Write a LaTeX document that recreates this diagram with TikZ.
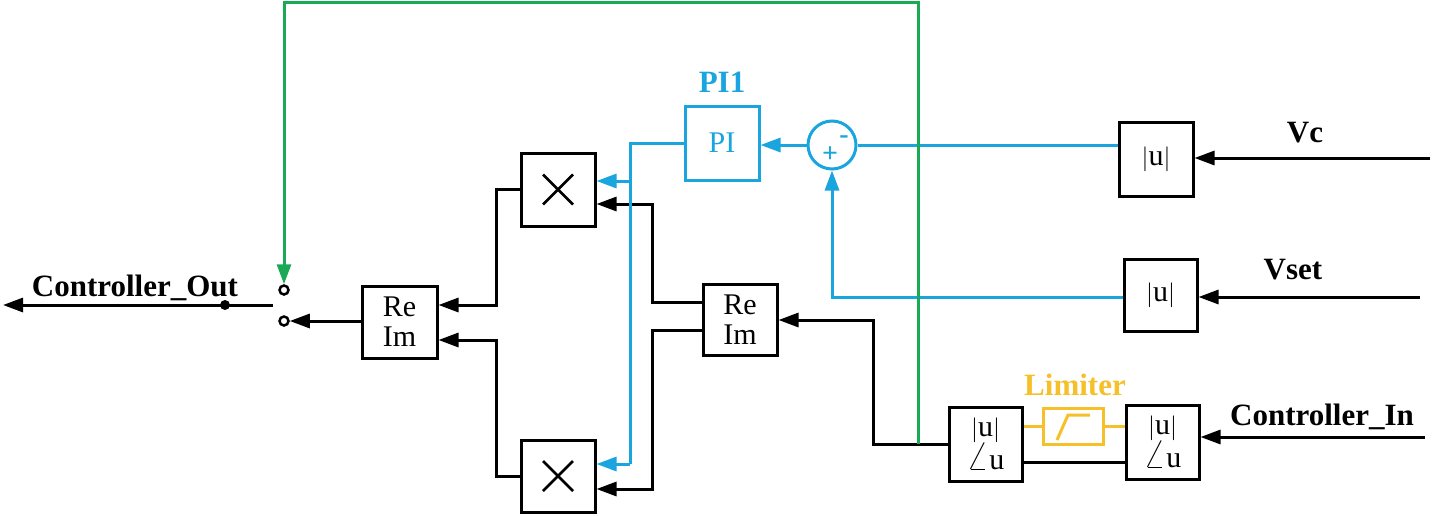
\documentclass[tikz,border=0pt]{standalone}
\usepackage{fontspec}
\setmainfont{Liberation Serif}
\usetikzlibrary{arrows.meta,calc}
\definecolor{cblue}{HTML}{1AA5DE}
\definecolor{cgreen}{HTML}{1AAA55}
\definecolor{cyel}{HTML}{F5C02A}
\tikzset{
 blk/.style={draw,line width=3pt,minimum width=#1,inner sep=0pt,font=\fontsize{30}{32}\selectfont},
 w/.style={line width=3pt},
 tip/.style={-{Triangle[length=20pt,width=14pt]}},
 lbl/.style={font=\fontsize{31}{33}\selectfont\bfseries},
 dot/.style={circle,draw,line width=2.5pt,inner sep=0pt,minimum size=9pt,fill=white}
}
\begin{document}
\begin{tikzpicture}[x=1pt,y=-1pt]
\useasboundingbox (0,0) rectangle (1435,515);
% boxes
\node[blk=75pt,minimum height=72pt,align=center] (ri1) at (399.5,322) {Re\\[-2pt]Im};
\node[blk=74pt,minimum height=71pt,align=center] (ri2) at (740,319.5) {Re\\[-2pt]Im};
\node[blk=74pt,minimum height=73pt] (m1) at (558,189.5) {};
\node[blk=74pt,minimum height=72pt] (m2) at (558,476) {};
\foreach \m in {m1,m2}{
 \draw[line width=2.5pt] ($(\m)+(-15,-15)$) -- ($(\m)+(15,15)$) ($(\m)+(-15,15)$) -- ($(\m)+(15,-15)$);}
\node[blk=74pt,minimum height=74pt,draw=cblue,text=cblue] (pi) at (722,143) {PI};
\node[lbl,text=cblue] (pil) at (722,82) {PI1};
\node[circle,draw=cblue,line width=3pt,minimum size=48pt,inner sep=0pt] (sum) at (832,145) {};
\node[text=cblue,font=\fontsize{28}{28}\selectfont\bfseries] (plus) at (830,155) {+};
\node[text=cblue,font=\fontsize{28}{28}\selectfont\bfseries] (minus) at (844,140) {-};
\node[blk=74pt,minimum height=74pt] (vc) at (1156,159) {$|$u$|$};
\node[blk=73pt,minimum height=72pt] (vs) at (1160.5,295) {$|$u$|$};
\node[blk=73pt,minimum height=74pt,align=center] (pm1) at (985.5,444) {$|$u$|$\\[0pt]\scalebox{1.4}{$\angle$}u};
\node[blk=73pt,minimum height=74pt,align=center] (pm2) at (1162.5,442) {$|$u$|$\\[0pt]\scalebox{1.4}{$\angle$}u};
\node[draw=cyel,line width=3pt,minimum width=60pt,minimum height=36pt,inner sep=0pt] (lim) at (1073,426) {};
\draw[cyel,line width=3pt] (1057,440) -- (1068,415) -- (1090,415);
\node[lbl,text=cyel] (liml) at (1075,385) {Limiter};
\node[lbl] (vcl) at (1305,133) {Vc};
\node[lbl] (vsl) at (1293,270) {Vset};
\node[lbl] (cil) at (1322,417) {Controller\_In};
\node[lbl] (col) at (135,288) {Controller\_Out};
% switch
\node[dot] (s1) at (284,290) {};
\node[dot] (s2) at (284,321) {};
\coordinate (sw) at (273,305);
\coordinate (out) at (3,305);
\draw[w,tip] (sw) -- (out);
\node[circle,fill,inner sep=0pt,minimum size=10pt] (jd) at (225,305) {};
% inputs
\coordinate (vcin) at (1430,158);
\coordinate (vsin) at (1420,297);
\coordinate (ciin) at (1425,437);
\draw[w,tip] (vcin) -- (vcin -| vc.east);
\draw[w,tip] (vsin) -- (vsin -| vs.east);
\draw[w,tip] (ciin) -- (ciin -| pm2.east);
% black wiring
\draw[w,tip] (ri1.west |- s2) -- (s2);
\draw[w,tip] (m1.west) -- (496,189.5) -- (496,305) -- (ri1.east |- 0,305);
\draw[w,tip] (m2.west) -- (496,476) -- (496,340) -- (ri1.east |- 0,340);
\draw[w,tip] (ri2.west |- 0,302) -- (652,302) -- (652,204) -- (m1.east |- 0,204);
\draw[w,tip] (ri2.west |- 0,330) -- (652,330) -- (652,489) -- (m2.east |- 0,489);
\draw[w,tip] (pm1.west |- 0,444) -- (873,444) -- (873,320) -- (ri2.east |- 0,320);
\draw[w] (pm1.east |- 0,462) -- (pm2.west |- 0,462);
\draw[cyel,line width=3pt] (pm1.east |- lim) -- (lim.west) (lim.east) -- (pm2.west |- lim);
% blue wiring
\draw[cblue,w] (pi.west) -- (630,143) -- (630,464);
\draw[cblue,w,tip] (630,181) -- (m1.east |- 0,181);
\draw[cblue,w,tip] (630,464) -- (m2.east |- 0,464);
\draw[cblue,w,tip] (sum.west) -- (pi.east |- sum.west);
\draw[cblue,w] (vc.west |- 0,145) -- (sum.east);
\draw[cblue,w,tip] (vs.west |- 0,297) -- (832,297) -- (sum.south);
% green
\draw[cgreen,w,tip] (918,444) -- (918,2) -- (284,2) -- (s1.north);
\end{tikzpicture}
\end{document}
